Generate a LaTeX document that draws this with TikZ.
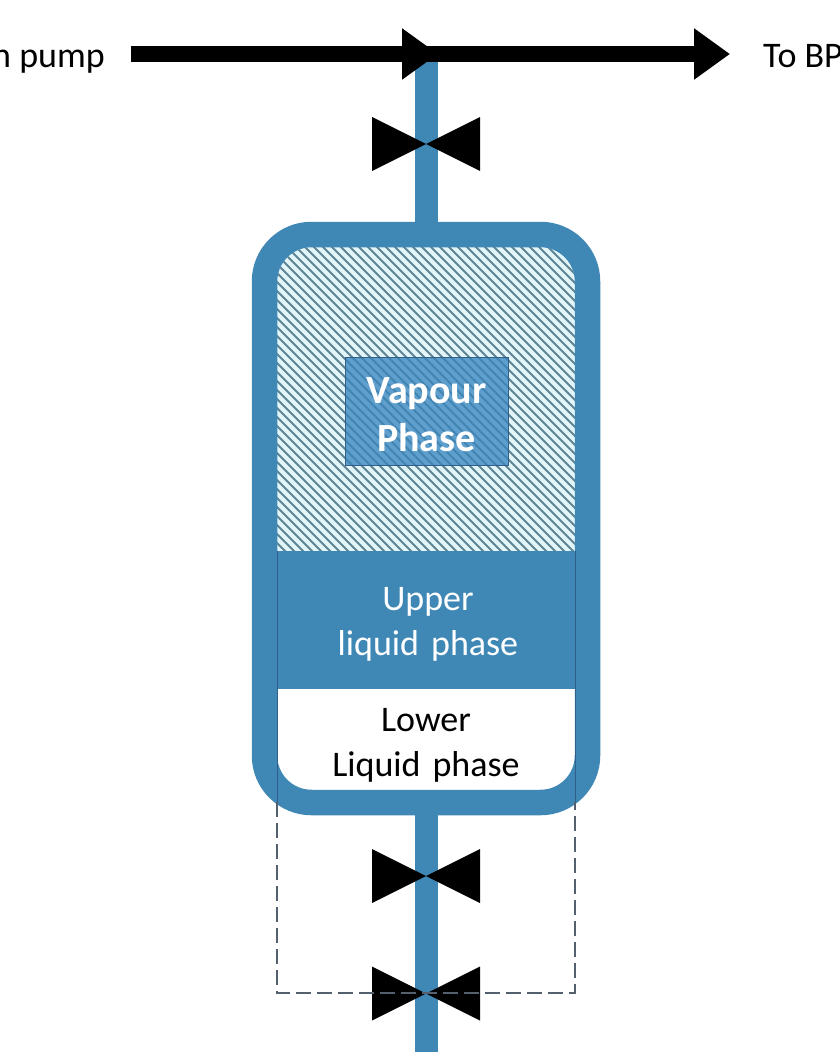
\documentclass[tikz,border=0pt]{standalone}
\usepackage{fontspec}
\setmainfont{Carlito}
\usetikzlibrary{arrows.meta,backgrounds}
\definecolor{pipeblue}{HTML}{3F88B6}
\definecolor{hatchbg}{HTML}{E2F6FA}
\definecolor{hatchline}{HTML}{5F8494}
\definecolor{boxblue}{HTML}{5F9FCE}
\definecolor{boxline}{HTML}{4284B2}
\definecolor{edgedark}{HTML}{2F5F8A}
\definecolor{dashgrey}{HTML}{55606E}
\tikzset{
  pipe/.style={draw=pipeblue,line width=23pt},
  flow/.style={line width=16pt,-{Triangle[length=36pt,width=49pt]},black},
  valve/.style={minimum width=108pt,minimum height=54pt,inner sep=0pt,
    path picture={\fill[black] (path picture bounding box.north west) -- (path picture bounding box.south east) -- (path picture bounding box.north east) -- (path picture bounding box.south west) -- cycle;}},
  vessel/.style={draw=pipeblue,line width=25.5pt,rounded corners=47pt,minimum width=323pt,minimum height=568pt,inner sep=0pt},
  phase/.style={font=\fontsize{36}{45}\selectfont,align=center,text width=290pt,inner sep=0pt},
  streamlabel/.style={font=\fontsize{36}{40}\selectfont,inner sep=0pt},
  boundary/.style={draw=dashgrey,line width=1.5pt,dash pattern=on 15pt off 6pt},
  wallline/.style={draw=edgedark,line width=1pt}
}
\begin{document}
\begin{tikzpicture}[x=1pt,y=-1pt]
\useasboundingbox (0,0) rectangle (840,1052);
% interior of the vessel
\begin{scope}
  \clip[rounded corners=35pt] (277,247) rectangle (575,789);
  \fill[hatchbg] (277,247) rectangle (575,551);
  \begin{scope}
    \clip (277,247) rectangle (575,551);
    \foreach \k in {-320,-311,...,320}
      \draw[hatchline,line width=2pt] ({426+\k-320},{399-320}) -- ({426+\k+320},{399+320});
  \end{scope}
  \fill[pipeblue] (277,551) rectangle (575,689);
  \fill[white] (277,689) rectangle (575,789);
\end{scope}
% vapour label box
\begin{scope}
  \clip (345,357) rectangle (508,465);
  \fill[boxblue] (345,357) rectangle (508,465);
  \foreach \k in {-200,-191,...,200}
    \draw[boxline,line width=2pt] ({426+\k-100},{411-100}) -- ({426+\k+100},{411+100});
\end{scope}
\node[draw=edgedark,line width=1pt,minimum width=163pt,minimum height=108pt,inner sep=0pt] (vapourbox) at (426.5,411) {};
\node[phase,text=white,font=\fontsize{40}{48}\selectfont\bfseries] (vapour) at (426.5,414.5) {Vapour\\Phase};
\node[phase,text=white] (upper) at (428,624.5) {Upper\\liquid phase};
\node[phase,text=black] (lower) at (426,745) {Lower\\Liquid phase};
% vessel wall, valves, end points
\node[vessel] (vessel) at (426,518.5) {};
\node[valve] (v1) at (426,144) {};
\node[valve] (v2) at (426,876) {};
\node[valve] (v3) at (426,993.5) {};
\coordinate (junction) at (426,54);
\coordinate (pipeend) at (426,1052);
\coordinate (pumpstart) at (131,54);
\coordinate (firsttip) at (438,54);
\coordinate (bprtip) at (730,54);
\node[streamlabel,anchor=base east] (pump) at (105,67) {n pump};
\node[streamlabel,anchor=base west] (bpr) at (763,67) {To BP};
\begin{pgfonlayer}{background}
  \fill[white] (0,0) rectangle (840,1052);
  \draw[pipe] (junction) -- (v1.center) -- (vessel.north);
  \draw[pipe] (vessel.south) -- (v2.center) -- (v3.center) -- (pipeend);
\end{pgfonlayer}
% boundary line: thin along the wall, dashed below it
\coordinate (da) at (277,551);
\coordinate (da2) at (277,802);
\coordinate (db) at (277,993);
\coordinate (dc) at (575,993);
\coordinate (dd2) at (575,802);
\coordinate (dd) at (575,551);
\draw[wallline] (da) -- (da2);
\draw[wallline] (dd) -- (dd2);
\draw[boundary] (da2) -- (db) -- (dc) -- (dd2);
% stream arrows
\draw[flow] (pumpstart) -- (firsttip);
\draw[flow] (junction) -- (bprtip);
\end{tikzpicture}
\end{document}
